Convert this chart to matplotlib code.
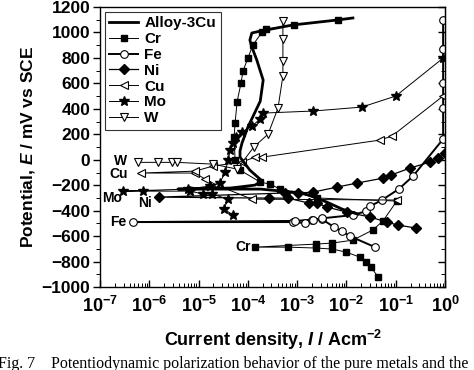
import numpy as np
import matplotlib
matplotlib.use("Agg")
import matplotlib.pyplot as plt
from matplotlib.ticker import LogLocator, MultipleLocator, FixedLocator

plt.rcParams['font.family'] = ['Liberation Sans', 'DejaVu Sans']
plt.rcParams['font.weight'] = 'bold'
plt.rcParams['mathtext.fontset'] = 'custom'
plt.rcParams['mathtext.rm'] = 'Liberation Sans:bold'
plt.rcParams['mathtext.bf'] = 'Liberation Sans:bold'
plt.rcParams['mathtext.it'] = 'Liberation Sans:bold:italic'

# log10(current density, A/cm2) and potential (mV vs SCE)
alloy_logi = [-1.77, -2.09, -2.40, -2.88, -3.75, -4.97, -5.42, -4.36, -3.86, -3.71,
              -3.96, -4.16, -4.16, -4.12, -4.00, -3.75, -3.69, -3.82, -3.92, -3.96,
              -3.92, -3.75, -3.09, -2.19, -1.87]
alloy_e = [-426, -387, -332, -261, -230, -230, -230, -222, -199, -167,
           -81, 21, 70, 131, 257, 460, 626, 784, 886, 941,
           996, 1011, 1059, 1098, 1114]

cr_logi = [-1.36, -1.50, -1.60, -1.73, -2.01, -2.29, -2.62, -3.19, -3.86, -2.62,
           -2.29, -1.87, -1.47, -1.26, -0.98, -2.60, -3.35, -3.55, -3.75, -4.16,
           -4.26, -4.28, -4.26, -4.22, -4.14, -4.10, -4.00, -3.90, -3.71, -3.63,
           -3.06, -2.17]
cr_e = [-921, -843, -804, -764, -725, -701, -693, -686, -686, -662,
        -654, -631, -552, -481, -324, -300, -230, -191, -175, -81,
        2, 179, 289, 454, 603, 697, 799, 901, 1004, 1027,
        1059, 1098]

fe_logi = [-1.42, -1.93, -2.09, -2.25, -2.50, -2.70, -2.84, -3.09, -6.33, -3.05,
           -2.68, -2.50, -1.87, -1.60, -1.52, -1.28, -0.94, -0.65, -0.04, -0.04,
           -0.04, -0.04, -0.04]
fe_e = [-686, -600, -560, -529, -466, -473, -497, -489, -489, -480,
        -470, -460, -434, -403, -364, -316, -230, -128, 163, 403,
        603, 870, 1098]

ni_logi = [-0.59, -0.955, -1.18, -1.52, -1.99, -2.40, -2.60, -2.76, -3.19, -3.57,
           -5.80, -3.25, -2.98, -2.68, -2.19, -1.79, -1.26, -1.10, -0.71, -0.31,
           -0.14, 0.0]
ni_e = [-536, -513, -489, -450, -411, -371, -340, -340, -301, -301,
        -293, -261, -261, -254, -214, -183, -144, -120, -65, -18,
        14, 53]

cu_logi = [-0.98, -3.92, -4.63, -4.87, -5.07, -6.17, -5.07, -4.71, -4.12, -3.86,
           -3.71, -1.32, -1.08, -0.04]
cu_e = [-316, -309, -199, -151, -104, -104, -89, -49, -18, 21,
        21, 155, 186, 501]

mo_logi = [-4.30, -4.49, -4.40, -4.73, -4.91, -5.17, -6.13, -6.53, -5.22, -4.77,
           -4.57, -4.46, -4.40, -4.36, -4.30, -4.24, -4.12, -3.92, -3.75, -3.69,
           -2.68, -1.69, -1.00, -0.04]
mo_e = [-434, -387, -309, -269, -269, -246, -246, -246, -230, -206,
        -183, -96, 2, 76, 131, 179, 218, 265, 320, 367,
        383, 414, 501, 799]

w_logi = [-6.23, -5.82, -5.54, -5.44, -4.71, -4.22, -3.88, -3.59, -3.39, -3.29,
          -3.29, -3.29, -3.29]
w_e = [-20, -20, -20, -20, -34, -73, 100, 202, 406, 658,
       776, 949, 1090]

labels = [("W", -6.59, -8), ("Cu", -6.63, -112), ("Mo", -6.76, -301),
          ("Ni", -6.09, -340), ("Fe", -6.63, -489), ("Cr", -4.10, -686)]

fig = plt.figure(figsize=(4.74, 3.70), dpi=100)
ax = fig.add_axes([0.211, 0.224, 0.728, 0.757])

def p(logi):
    return 10.0 ** np.array(logi)

ax.plot(p(alloy_logi), alloy_e, '-', color='black', lw=2.0, label='Alloy-3Cu', zorder=5)
ax.plot(p(cr_logi), cr_e, '-', color='black', lw=0.7, marker='s', ms=4,
        mfc='black', mec='black', label='Cr')
ax.plot(p(fe_logi), fe_e, '-', color='black', lw=1.4, marker='o', ms=5.5,
        mfc='white', mec='black', mew=0.8, label='Fe')
ax.plot(p(ni_logi), ni_e, '-', color='black', lw=0.9, marker='D', ms=5,
        mfc='black', mec='black', label='Ni')
ax.plot(p(cu_logi), cu_e, '-', color='black', lw=0.7, marker='<', ms=6,
        mfc='white', mec='black', mew=0.8, label='Cu')
ax.plot(p(mo_logi), mo_e, '-', color='black', lw=0.7, marker='*', ms=7,
        mfc='black', mec='black', label='Mo')
ax.plot(p(w_logi), w_e, '-', color='black', lw=0.7, marker='v', ms=6,
        mfc='white', mec='black', mew=0.8, label='W')

for txt, lx, ly in labels:
    ax.text(10 ** lx, ly, txt, fontsize=10, fontweight='bold',
            ha='center', va='center')

ax.set_xscale('log')
ax.set_xlim(1e-7, 1)
ax.set_ylim(-1000, 1200)
ax.xaxis.set_major_locator(FixedLocator([10.0 ** k for k in range(-7, 1)]))
ax.xaxis.set_minor_locator(LogLocator(base=10, subs=np.arange(2, 10), numticks=20))
ax.set_xticklabels([r'$10^{%d}$' % k for k in range(-7, 1)])
ax.yaxis.set_major_locator(MultipleLocator(200))
ax.yaxis.set_minor_locator(MultipleLocator(100))

ax.tick_params(axis='x', which='both', direction='in', top=False, labelsize=13, pad=6)
ax.tick_params(axis='x', which='major', length=5, width=1)
ax.tick_params(axis='x', which='minor', length=3, width=0.7)
ax.tick_params(axis='y', which='both', direction='out', labelsize=12.5, pad=2)
ax.tick_params(axis='y', which='major', length=5, width=1)
ax.tick_params(axis='y', which='minor', length=3, width=0.7)
for sp in ax.spines.values():
    sp.set_linewidth(1.0)

# inward ticks on the right-hand spine
sec = ax.secondary_yaxis('right')
sec.yaxis.set_major_locator(MultipleLocator(200))
sec.yaxis.set_minor_locator(MultipleLocator(100))
sec.tick_params(which='both', direction='in', labelright=False)
sec.tick_params(which='major', length=5, width=1)
sec.tick_params(which='minor', length=3, width=0.7)

ax.set_xlabel(r'Current density, $I$ / Acm$^{-2}$', fontsize=13, fontweight='bold', labelpad=9)
ax.set_ylabel(r'Potential, $E$ / mV vs SCE', fontsize=12.5, fontweight='bold', labelpad=3)

leg = ax.legend(loc='upper left', fontsize=11, frameon=True, fancybox=False,
                edgecolor='black', handlelength=1.9, borderpad=0.3,
                labelspacing=0.12, handletextpad=0.4, borderaxespad=0.3)
leg.get_frame().set_linewidth(0.8)

fig.text(-0.005, 0.006, "Fig. 7    Potentiodynamic polarization behavior of the pure metals and the",
         family='Liberation Serif', fontweight='normal', fontsize=11.5, ha='left', va='baseline')

fig.savefig('out.png', dpi=100)
